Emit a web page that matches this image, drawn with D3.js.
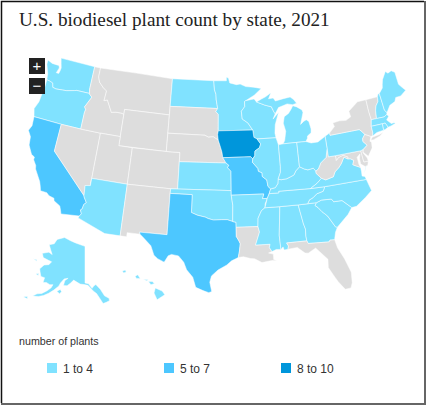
<!DOCTYPE html>
<html><head><meta charset="utf-8">
<script src="https://cdn.jsdelivr.net/npm/d3@7"></script>
<style>html,body{margin:0;padding:0;background:#fff}svg{display:block}</style>
</head><body><div id="chart"></div>
<script>
const titleText = "U.S. biodiesel plant count by state, 2021";
const legendTitle = "number of plants";
const binLabels = ["1 to 4","5 to 7","8 to 10"];
const binColors = ["#80e2ff","#4dc7ff","#0096db"];
const noPlantsColor = "#dddddd";
const lightStates = ["WA","OR","ND","MN","WI","MI","IL","IN","OH","KY","TN","NC","SC","GA","AL","MS","AR","OK","KS","AZ","AK","HI","PA","VA","ME","NH","MA","CT","RI"];
const midStates = ["CA","TX","MO"];
const darkStates = ["IA"];

// Simplified state outlines in lon/lat
const outlines = {
WA:[[[-124.73,48.38],[-123.9,48.16],[-123.1,48.15],[-122.75,48.15],[-122.6,47.9],[-122.85,47.3],[-122.45,47.3],[-122.35,47.6],[-122.3,47.95],[-122.5,48.4],[-122.76,49],[-117.03,49],[-117.04,46.42],[-116.92,46],[-118.98,46],[-119.3,45.93],[-120.5,45.7],[-121.2,45.65],[-122.2,45.58],[-122.75,45.65],[-122.95,46.1],[-123.4,46.2],[-123.98,46.27],[-124.07,46.7],[-124.1,46.9],[-124.4,47.4],[-124.7,47.9]]],
OR:[[[-123.98,46.27],[-123.4,46.2],[-122.95,46.1],[-122.75,45.65],[-122.2,45.58],[-121.2,45.65],[-120.5,45.7],[-119.3,45.93],[-118.98,46],[-116.92,46],[-116.78,45.85],[-116.55,45.75],[-116.46,45.6],[-116.85,45],[-117.2,44.45],[-116.95,44.2],[-117.03,43.85],[-117.03,42],[-120,42],[-124.21,42],[-124.55,42.84],[-124.15,43.7],[-124.05,44.7],[-123.95,45.5]]],
CA:[[[-124.21,42],[-120,42],[-120,39],[-114.63,35],[-114.57,34.85],[-114.14,34.3],[-114.43,34.05],[-114.52,33.55],[-114.72,33.4],[-114.5,33],[-114.72,32.72],[-117.12,32.53],[-117.25,32.85],[-117.5,33.35],[-118.4,33.75],[-118.5,34.03],[-119.2,34.15],[-119.6,34.42],[-120.47,34.45],[-120.65,34.9],[-120.9,35.4],[-121.9,36.6],[-122,36.96],[-122.5,37.5],[-122.5,37.8],[-123,38],[-123.7,38.9],[-123.85,39.8],[-124.4,40.4],[-124.1,41]]],
NV:[[[-120,42],[-117.03,42],[-114.04,42],[-114.04,36.2],[-114.75,36.1],[-114.63,35],[-120,39]]],
ID:[[[-117.03,49],[-116.05,49],[-116.05,48],[-115.72,47.44],[-114.95,46.93],[-114.35,46.65],[-114.45,45.55],[-113.95,45.7],[-113.45,45.05],[-113,44.45],[-112.3,44.55],[-111.5,44.55],[-111.05,44.48],[-111.05,42],[-114.04,42],[-117.03,42],[-117.03,43.85],[-116.95,44.2],[-117.2,44.45],[-116.85,45],[-116.46,45.6],[-116.55,45.75],[-116.78,45.85],[-116.92,46],[-117.04,46.42]]],
MT:[[[-116.05,49],[-104.05,49],[-104.05,45.94],[-104.05,45],[-111.05,45],[-111.05,44.48],[-111.5,44.55],[-112.3,44.55],[-113,44.45],[-113.45,45.05],[-113.95,45.7],[-114.45,45.55],[-114.35,46.65],[-114.95,46.93],[-115.72,47.44],[-116.05,48]]],
WY:[[[-111.05,45],[-104.05,45],[-104.05,43],[-104.05,41],[-111.05,41],[-111.05,42],[-111.05,44.48]]],
UT:[[[-114.04,42],[-111.05,42],[-111.05,41],[-109.05,41],[-109.05,37],[-114.04,37],[-114.04,36.2]]],
CO:[[[-109.05,41],[-104.05,41],[-102.05,41],[-102.05,40],[-102.05,37],[-103,37],[-109.05,37]]],
AZ:[[[-114.04,37],[-109.05,37],[-109.05,31.33],[-111.07,31.33],[-114.81,32.5],[-114.72,32.72],[-114.5,33],[-114.72,33.4],[-114.52,33.55],[-114.43,34.05],[-114.14,34.3],[-114.57,34.85],[-114.63,35],[-114.75,36.1],[-114.04,36.2]]],
NM:[[[-109.05,37],[-103,37],[-103.04,36.5],[-103.04,32],[-106.62,32],[-106.53,31.78],[-108.21,31.78],[-108.21,31.33],[-109.05,31.33]]],
ND:[[[-104.05,49],[-97.23,49],[-97.1,48],[-96.85,47.5],[-96.8,46.9],[-96.56,45.94],[-104.05,45.94]]],
SD:[[[-104.05,45.94],[-96.56,45.94],[-96.85,45.6],[-96.45,45.3],[-96.45,43.5],[-96.55,43.1],[-96.45,42.49],[-97.2,42.85],[-97.9,42.8],[-98.5,43],[-104.05,43],[-104.05,45]]],
NE:[[[-104.05,43],[-98.5,43],[-97.9,42.8],[-97.2,42.85],[-96.45,42.49],[-96.1,41.7],[-95.9,41.2],[-95.77,40.58],[-95.31,40],[-102.05,40],[-102.05,41],[-104.05,41]]],
KS:[[[-102.05,40],[-95.31,40],[-94.9,39.75],[-95.1,39.5],[-94.61,39.1],[-94.62,37],[-103,37],[-102.05,37]]],
OK:[[[-103,37],[-94.62,37],[-94.62,36.5],[-94.43,35.4],[-94.48,33.64],[-95.2,33.85],[-96,33.85],[-97,33.8],[-97.7,33.95],[-98.1,34.1],[-99.2,34.3],[-100,34.56],[-100,36.5],[-103.04,36.5]]],
TX:[[[-106.62,32],[-103.04,32],[-103.04,36.5],[-100,36.5],[-100,34.56],[-99.2,34.3],[-98.1,34.1],[-97.7,33.95],[-97,33.8],[-96,33.85],[-95.2,33.85],[-94.48,33.64],[-94.04,33.55],[-94.04,33],[-94.04,32],[-93.7,31.5],[-93.55,31.2],[-93.7,30.3],[-93.85,29.7],[-94.7,29.35],[-95.3,28.9],[-96.4,28.35],[-97.2,27.7],[-97.4,27],[-97.15,25.97],[-97.5,25.85],[-98.2,26.06],[-99.1,26.4],[-99.5,27.5],[-100.3,28.3],[-100.7,29.1],[-101.4,29.77],[-102.3,29.88],[-102.7,29.7],[-103.15,28.98],[-104,29.3],[-104.5,29.65],[-105,30.65],[-106,31.4],[-106.53,31.78]]],
MN:[[[-97.23,49],[-95.15,49],[-95.15,49.38],[-94.8,49.3],[-94.6,48.75],[-93.5,48.55],[-92.9,48.6],[-92,48.3],[-90.8,48.2],[-89.5,48],[-90.7,47.3],[-92.1,46.75],[-92.3,46.65],[-92.29,46.1],[-92.85,45.6],[-92.75,44.75],[-91.9,44.3],[-91.22,43.5],[-96.45,43.5],[-96.45,45.3],[-96.85,45.6],[-96.56,45.94],[-96.8,46.9],[-96.85,47.5],[-97.1,48]]],
WI:[[[-92.1,46.75],[-91.2,46.85],[-90.75,46.9],[-90.4,46.55],[-89.1,46.14],[-88.1,45.9],[-87.8,45.35],[-87.6,45.1],[-88,44.55],[-87.05,45.25],[-87.5,44.4],[-87.75,43.9],[-87.9,43],[-87.8,42.49],[-90.64,42.51],[-91.1,42.7],[-91.22,43.5],[-91.9,44.3],[-92.75,44.75],[-92.85,45.6],[-92.29,46.1],[-92.3,46.65]]],
IA:[[[-96.45,43.5],[-91.22,43.5],[-91.1,42.7],[-90.64,42.51],[-90.15,41.95],[-90.35,41.55],[-91.05,41.2],[-91.1,40.7],[-91.42,40.38],[-91.73,40.61],[-95.77,40.58],[-95.9,41.2],[-96.1,41.7],[-96.45,42.49],[-96.55,43.1]]],
MO:[[[-95.77,40.58],[-91.73,40.61],[-91.42,40.38],[-91.5,40],[-90.75,39.3],[-90.7,39],[-90.2,38.8],[-90.2,38.4],[-89.6,38],[-89.5,37.3],[-89.15,37],[-89.4,36.5],[-89.7,36],[-90.37,36],[-90.15,36.5],[-94.62,36.5],[-94.62,37],[-94.61,39.1],[-95.1,39.5],[-94.9,39.75],[-95.31,40]]],
AR:[[[-94.62,36.5],[-90.15,36.5],[-90.37,36],[-89.7,36],[-90.05,35.4],[-90.1,35],[-90.6,34.7],[-91.1,33.9],[-91.17,33],[-94.04,33],[-94.04,33.55],[-94.48,33.64],[-94.43,35.4]]],
LA:[[[-94.04,33],[-91.17,33],[-91,32.4],[-91.6,31],[-89.73,31],[-89.85,30.65],[-89.55,30.18],[-90,30.05],[-89.4,29.9],[-89.4,29.3],[-89,29.15],[-89.6,29.2],[-90.1,29.15],[-90.9,29.05],[-91.8,29.5],[-92.3,29.55],[-93.2,29.77],[-93.85,29.7],[-93.7,30.3],[-93.55,31.2],[-93.7,31.5],[-94.04,32]]],
MS:[[[-90.1,35],[-88.2,35],[-88.1,34.9],[-88.47,31.9],[-88.4,30.35],[-89,30.38],[-89.55,30.18],[-89.85,30.65],[-89.73,31],[-91.6,31],[-91,32.4],[-91.17,33],[-91.1,33.9],[-90.6,34.7]]],
AL:[[[-88.2,35],[-85.6,35],[-85.18,32.87],[-85,32.3],[-85.05,31.55],[-85,31],[-87.6,31],[-87.4,30.65],[-87.5,30.3],[-88,30.25],[-88.1,30.6],[-88.4,30.35],[-88.47,31.9],[-88.1,34.9]]],
GA:[[[-85.6,35],[-84.32,35],[-83.11,35],[-83.35,34.7],[-83,34.45],[-82.55,33.95],[-81.9,33.4],[-81.4,32.6],[-81.1,32.1],[-80.85,32.03],[-81.2,31.5],[-81.4,30.9],[-81.45,30.72],[-82.05,30.75],[-82.2,30.57],[-84.86,30.7],[-85,31],[-85.05,31.55],[-85,32.3],[-85.18,32.87]]],
FL:[[[-87.6,31],[-85,31],[-84.86,30.7],[-82.2,30.57],[-82.05,30.75],[-81.45,30.72],[-81.25,29.8],[-80.6,28.5],[-80.05,26.9],[-80.15,25.75],[-80.4,25.2],[-81.1,25.15],[-81.8,26.1],[-82.2,26.8],[-82.75,27.8],[-82.65,28.7],[-83.4,29.5],[-84,30.1],[-85,29.65],[-85.4,29.7],[-86.3,30.4],[-87.5,30.3],[-87.4,30.65]]],
SC:[[[-83.11,35],[-82.4,35.2],[-81.05,35.15],[-80.8,34.82],[-79.67,34.8],[-78.55,33.86],[-79.2,33.2],[-79.9,32.7],[-80.85,32.03],[-81.1,32.1],[-81.4,32.6],[-81.9,33.4],[-82.55,33.95],[-83,34.45],[-83.35,34.7]]],
NC:[[[-84.32,35],[-84,35.4],[-83.5,35.57],[-82.9,35.95],[-82,36.12],[-81.68,36.59],[-75.87,36.55],[-75.5,35.25],[-76.5,34.65],[-77.9,33.9],[-78.55,33.86],[-79.67,34.8],[-80.8,34.82],[-81.05,35.15],[-82.4,35.2],[-83.11,35]]],
TN:[[[-90.1,35],[-89.7,36],[-89.4,36.5],[-88.07,36.5],[-88.07,36.68],[-83.68,36.6],[-81.68,36.59],[-82,36.12],[-82.9,35.95],[-83.5,35.57],[-84,35.4],[-84.32,35],[-85.6,35],[-88.2,35]]],
KY:[[[-89.4,36.5],[-89.15,37],[-88.5,37.1],[-88.1,37.5],[-88,38],[-87.6,37.9],[-86.8,37.95],[-86.3,38.1],[-85.75,38.27],[-85.4,38.7],[-84.82,39.1],[-84.2,38.8],[-83.7,38.65],[-82.9,38.75],[-82.6,38.4],[-82.6,38.15],[-81.97,37.54],[-82.7,37.05],[-83.68,36.6],[-88.07,36.68],[-88.07,36.5]]],
VA:[[[-83.68,36.6],[-82.7,37.05],[-81.97,37.54],[-81.4,37.3],[-80.3,37.5],[-79.95,38],[-79.3,38.4],[-78.87,38.77],[-78.35,39.4],[-77.83,39.13],[-77.5,39.1],[-77.05,38.85],[-77.3,38.4],[-76.3,37.95],[-76.3,37.5],[-76.35,37],[-75.97,36.9],[-75.87,36.55],[-81.68,36.59]],[[-75.95,37.15],[-75.6,37.9],[-75.25,38.03],[-75.65,37.95]]],
WV:[[[-82.6,38.15],[-82.6,38.4],[-82.2,38.6],[-81.75,39.2],[-80.87,39.7],[-80.52,40.64],[-80.52,39.72],[-79.48,39.72],[-79.48,39.2],[-79.1,39.47],[-78.4,39.62],[-77.75,39.32],[-77.83,39.13],[-78.35,39.4],[-78.87,38.77],[-79.3,38.4],[-79.95,38],[-80.3,37.5],[-81.4,37.3],[-81.97,37.54]]],
MD:[[[-79.48,39.72],[-75.79,39.72],[-75.7,38.46],[-75.05,38.45],[-75.25,38.03],[-75.65,37.95],[-76.2,38.3],[-76.2,38.9],[-76,39.4],[-76.5,39.1],[-76.45,38.3],[-76.3,37.95],[-77.3,38.4],[-77.05,38.85],[-77.5,39.1],[-77.83,39.13],[-77.75,39.32],[-78.4,39.62],[-79.1,39.47],[-79.48,39.2]]],
DE:[[[-75.79,39.72],[-75.4,39.8],[-75.55,39.45],[-75.1,38.8],[-75.05,38.45],[-75.7,38.46]]],
PA:[[[-80.52,41.98],[-79.76,42.27],[-79.76,42],[-75.35,42],[-75.05,41.75],[-74.7,41.36],[-75.13,40.98],[-75.2,40.65],[-74.72,40.15],[-75.4,39.8],[-75.79,39.72],[-79.48,39.72],[-80.52,39.72],[-80.52,40.64]]],
NJ:[[[-74.7,41.36],[-73.9,41],[-74.2,40.5],[-74,40.4],[-74.1,39.75],[-74.9,38.95],[-75.5,39.5],[-75.4,39.8],[-74.72,40.15],[-75.2,40.65],[-75.13,40.98]]],
NY:[[[-79.76,42],[-75.35,42],[-75.05,41.75],[-74.7,41.36],[-73.9,41],[-73.65,41],[-73.5,41.3],[-73.5,42.05],[-73.26,42.75],[-73.35,43.7],[-73.34,45.01],[-74.7,45],[-75.5,44.6],[-76.3,44.2],[-76.2,43.55],[-77,43.28],[-78,43.37],[-79.05,43.27],[-78.9,42.85],[-79.76,42.27]],[[-74.03,40.6],[-73.75,40.87],[-72.6,40.98],[-72,41.1],[-72.6,40.8],[-73.6,40.58]]],
VT:[[[-73.34,45.01],[-71.5,45.01],[-71.6,44.5],[-72.05,44.1],[-72.3,43.6],[-72.46,42.73],[-73.26,42.75],[-73.35,43.7]]],
NH:[[[-71.5,45.01],[-71.3,45.3],[-71.08,45.3],[-70.98,43.4],[-70.7,43.07],[-70.82,42.87],[-71.3,42.7],[-72.46,42.73],[-72.3,43.6],[-72.05,44.1],[-71.6,44.5]]],
ME:[[[-71.08,45.3],[-70.4,45.8],[-70.25,46.2],[-70,46.7],[-69.23,47.46],[-68.9,47.2],[-68.3,47.35],[-67.8,47.07],[-67.8,45.7],[-67.45,45.3],[-67,44.85],[-68,44.4],[-68.8,44.4],[-69.1,44],[-70,43.75],[-70.7,43.07],[-70.98,43.4]]],
MA:[[[-73.26,42.75],[-72.46,42.73],[-71.3,42.7],[-70.82,42.87],[-70.6,42.65],[-71.05,42.3],[-70.65,41.95],[-70.55,41.8],[-70,41.8],[-70.2,42.07],[-69.95,41.7],[-70.65,41.55],[-71.12,41.5],[-71.38,42.02],[-71.8,42.02],[-73.5,42.05]]],
CT:[[[-73.5,42.05],[-71.8,42.02],[-71.85,41.32],[-72.9,41.25],[-73.65,41],[-73.5,41.3]]],
RI:[[[-71.8,42.02],[-71.38,42.02],[-71.12,41.5],[-71.5,41.37],[-71.85,41.32]]],
MI:[[[-86.82,41.76],[-84.8,41.76],[-83.45,41.73],[-83.15,42.05],[-83.1,42.3],[-82.5,42.6],[-82.42,43],[-82.6,43.85],[-82.95,44.07],[-83.35,43.95],[-83.9,43.65],[-83.3,44.9],[-83.4,45.2],[-84.15,45.6],[-84.75,45.78],[-85.1,45.4],[-85.55,45],[-86.25,44.7],[-86.5,44],[-86.25,43.1],[-86.55,42.1]],[[-90.4,46.55],[-89.1,46.14],[-88.1,45.9],[-87.8,45.35],[-87.6,45.1],[-87,45.75],[-86.3,45.9],[-85.6,46.05],[-84.75,45.9],[-84.1,46],[-84.5,46.45],[-85,46.77],[-86.1,46.67],[-87.4,46.5],[-87.7,46.85],[-88.45,46.8],[-88,47.45],[-88.9,47.05],[-89.6,46.83]]],
IL:[[[-90.64,42.51],[-87.8,42.49],[-87.53,41.7],[-87.53,39.35],[-87.6,38.7],[-88,38],[-88.1,37.5],[-88.5,37.1],[-89.15,37],[-89.5,37.3],[-89.6,38],[-90.2,38.4],[-90.2,38.8],[-90.7,39],[-90.75,39.3],[-91.5,40],[-91.42,40.38],[-91.1,40.7],[-91.05,41.2],[-90.35,41.55],[-90.15,41.95]]],
IN:[[[-87.53,41.7],[-86.82,41.76],[-84.8,41.76],[-84.82,39.1],[-85.4,38.7],[-85.75,38.27],[-86.3,38.1],[-86.8,37.95],[-87.6,37.9],[-88,38],[-87.6,38.7],[-87.53,39.35]]],
OH:[[[-84.8,41.76],[-83.45,41.73],[-82.7,41.5],[-81.7,41.5],[-80.52,41.98],[-80.52,40.64],[-80.87,39.7],[-81.75,39.2],[-82.2,38.6],[-82.6,38.4],[-82.9,38.75],[-83.7,38.65],[-84.2,38.8],[-84.82,39.1]]],
AK:[[[-141,69.65],[-141,60.3],[-139.2,60.1],[-137.5,58.9],[-136.5,59.5],[-135.5,59.8],[-133.5,58.5],[-131.9,56.7],[-130,55.9],[-130,55.3],[-131.5,55],[-133,54.8],[-134,56],[-135.5,57.5],[-137,58.2],[-139.5,59.7],[-141.5,59.9],[-143.5,60],[-145,60.4],[-147,60.9],[-148.5,60],[-150,59.3],[-151.8,59.2],[-151.5,60.5],[-150,61.2],[-152,60.9],[-153.5,59.7],[-154,58.9],[-156,57.6],[-158,56.5],[-160,55.6],[-162,55],[-163.2,54.8],[-164.5,54.6],[-163,55.5],[-161,56],[-159,57],[-157.5,58],[-157,58.9],[-158.5,58.7],[-160.5,59],[-162,58.7],[-162,60],[-164,60],[-165.2,61],[-166,61.7],[-165,62.6],[-164.5,63],[-162,63.5],[-161,64.4],[-163,64.5],[-166.5,64.7],[-168,65.6],[-164.5,66.5],[-162,66.2],[-163.5,67],[-166,68.3],[-163,69],[-162,70.3],[-157,71.3],[-152,70.8],[-148,70.4]],[[-154.5,57.5],[-153,57],[-152.2,57.6],[-153,58.1]],[[-168,53.5],[-166.2,53.5],[-166.5,54],[-167.5,53.8]],[[-167,60.2],[-165.5,60],[-165.5,60.5]],[[-171.5,63.4],[-169,63.2],[-169.5,63.5]]],
HI:[[[-155.9,20.25],[-155.1,19.9],[-154.8,19.5],[-155.7,18.95],[-156.05,19.7]],[[-156.7,20.95],[-156.25,20.95],[-156,20.75],[-156.4,20.6]],[[-158.25,21.55],[-157.95,21.7],[-157.65,21.3],[-158.1,21.3]],[[-159.75,22.1],[-159.4,22.23],[-159.3,22],[-159.6,21.9]],[[-157.3,21.2],[-156.7,21.15],[-156.9,21.05]]]
};

const W = 426, H = 405;
const binOf = s => lightStates.includes(s) ? binColors[0] : midStates.includes(s) ? binColors[1] : darkStates.includes(s) ? binColors[2] : noPlantsColor;

const lower48 = d3.geoConicEqualArea().rotate([96,0]).center([-0.6,38.7]).parallels([29.5,45.5]).scale(523).translate([217,175]).precision(0.1);
const alaska = d3.geoConicEqualArea().rotate([141,0]).center([0,60.3]).parallels([55,65]).scale(225).translate([85,283]).precision(0.1);
const hawaii = d3.geoConicEqualArea().rotate([157,0]).center([-3,19.9]).parallels([8,18]).scale(523).translate([120,291]).precision(0.1);
const projFor = s => s==="AK" ? alaska : s==="HI" ? hawaii : lower48;

function feature(code){
  const polys = outlines[code].map(ring=>{
    let r = ring.concat([ring[0]]);
    if (d3.geoArea({type:"Polygon",coordinates:[r]}) > 2*Math.PI) r = r.slice().reverse();
    return [r];
  });
  return {type:"MultiPolygon",coordinates:polys};
}

const svg = d3.select("#chart").append("svg").attr("width",W).attr("height",H);
svg.append("rect").attr("width",W).attr("height",H).attr("fill","#fff");

svg.append("g").selectAll("path").data(Object.keys(outlines)).join("path")
  .attr("d",d=>d3.geoPath(projFor(d))(feature(d)))
  .attr("fill",binOf).attr("stroke","#fff").attr("stroke-width",0.5).attr("stroke-linejoin","round");

svg.append("text").attr("x",19).attr("y",26).attr("font-family","'Liberation Serif',serif").attr("font-size",19.2).attr("fill","#222").text(titleText);

const zoomSyms = ["+","−"], zoomY = d3.scaleOrdinal().domain(zoomSyms).range([58,78]);
const zg = svg.append("g").selectAll("g").data(zoomSyms).join("g").attr("transform",d=>`translate(29,${zoomY(d)})`);
zg.append("rect").attr("width",16).attr("height",16).attr("fill","#222");
zg.append("text").attr("x",8).attr("y",12.5).attr("text-anchor","middle").attr("fill","#fff").attr("font-family","'Liberation Sans',sans-serif").attr("font-size",15).text(d=>d);

svg.append("text").attr("x",19).attr("y",345).attr("font-family","'Liberation Sans',sans-serif").attr("font-size",10.7).attr("fill","#333").text(legendTitle);
const legX = d3.scalePoint().domain(binLabels).range([47,281]);
const lg = svg.append("g").selectAll("g").data(binLabels).join("g").attr("transform",d=>`translate(${legX(d)},363)`);
lg.append("rect").attr("width",10).attr("height",10).attr("fill",(d,i)=>binColors[i]);
lg.append("text").attr("x",16).attr("y",10).attr("font-family","'Liberation Sans',sans-serif").attr("font-size",12).attr("fill","#333").text(d=>d);

const frame = svg.append("g").attr("fill","none");
frame.append("path").attr("d",d3.line()([[1.5,H-2],[1.5,1.5],[W-2,1.5]])).attr("stroke","#111").attr("stroke-width",1.5);
frame.append("path").attr("d",d3.line()([[W-1,1],[W-1,H-1],[1,H-1]])).attr("stroke","#666").attr("stroke-width",2);
</script></body></html>
